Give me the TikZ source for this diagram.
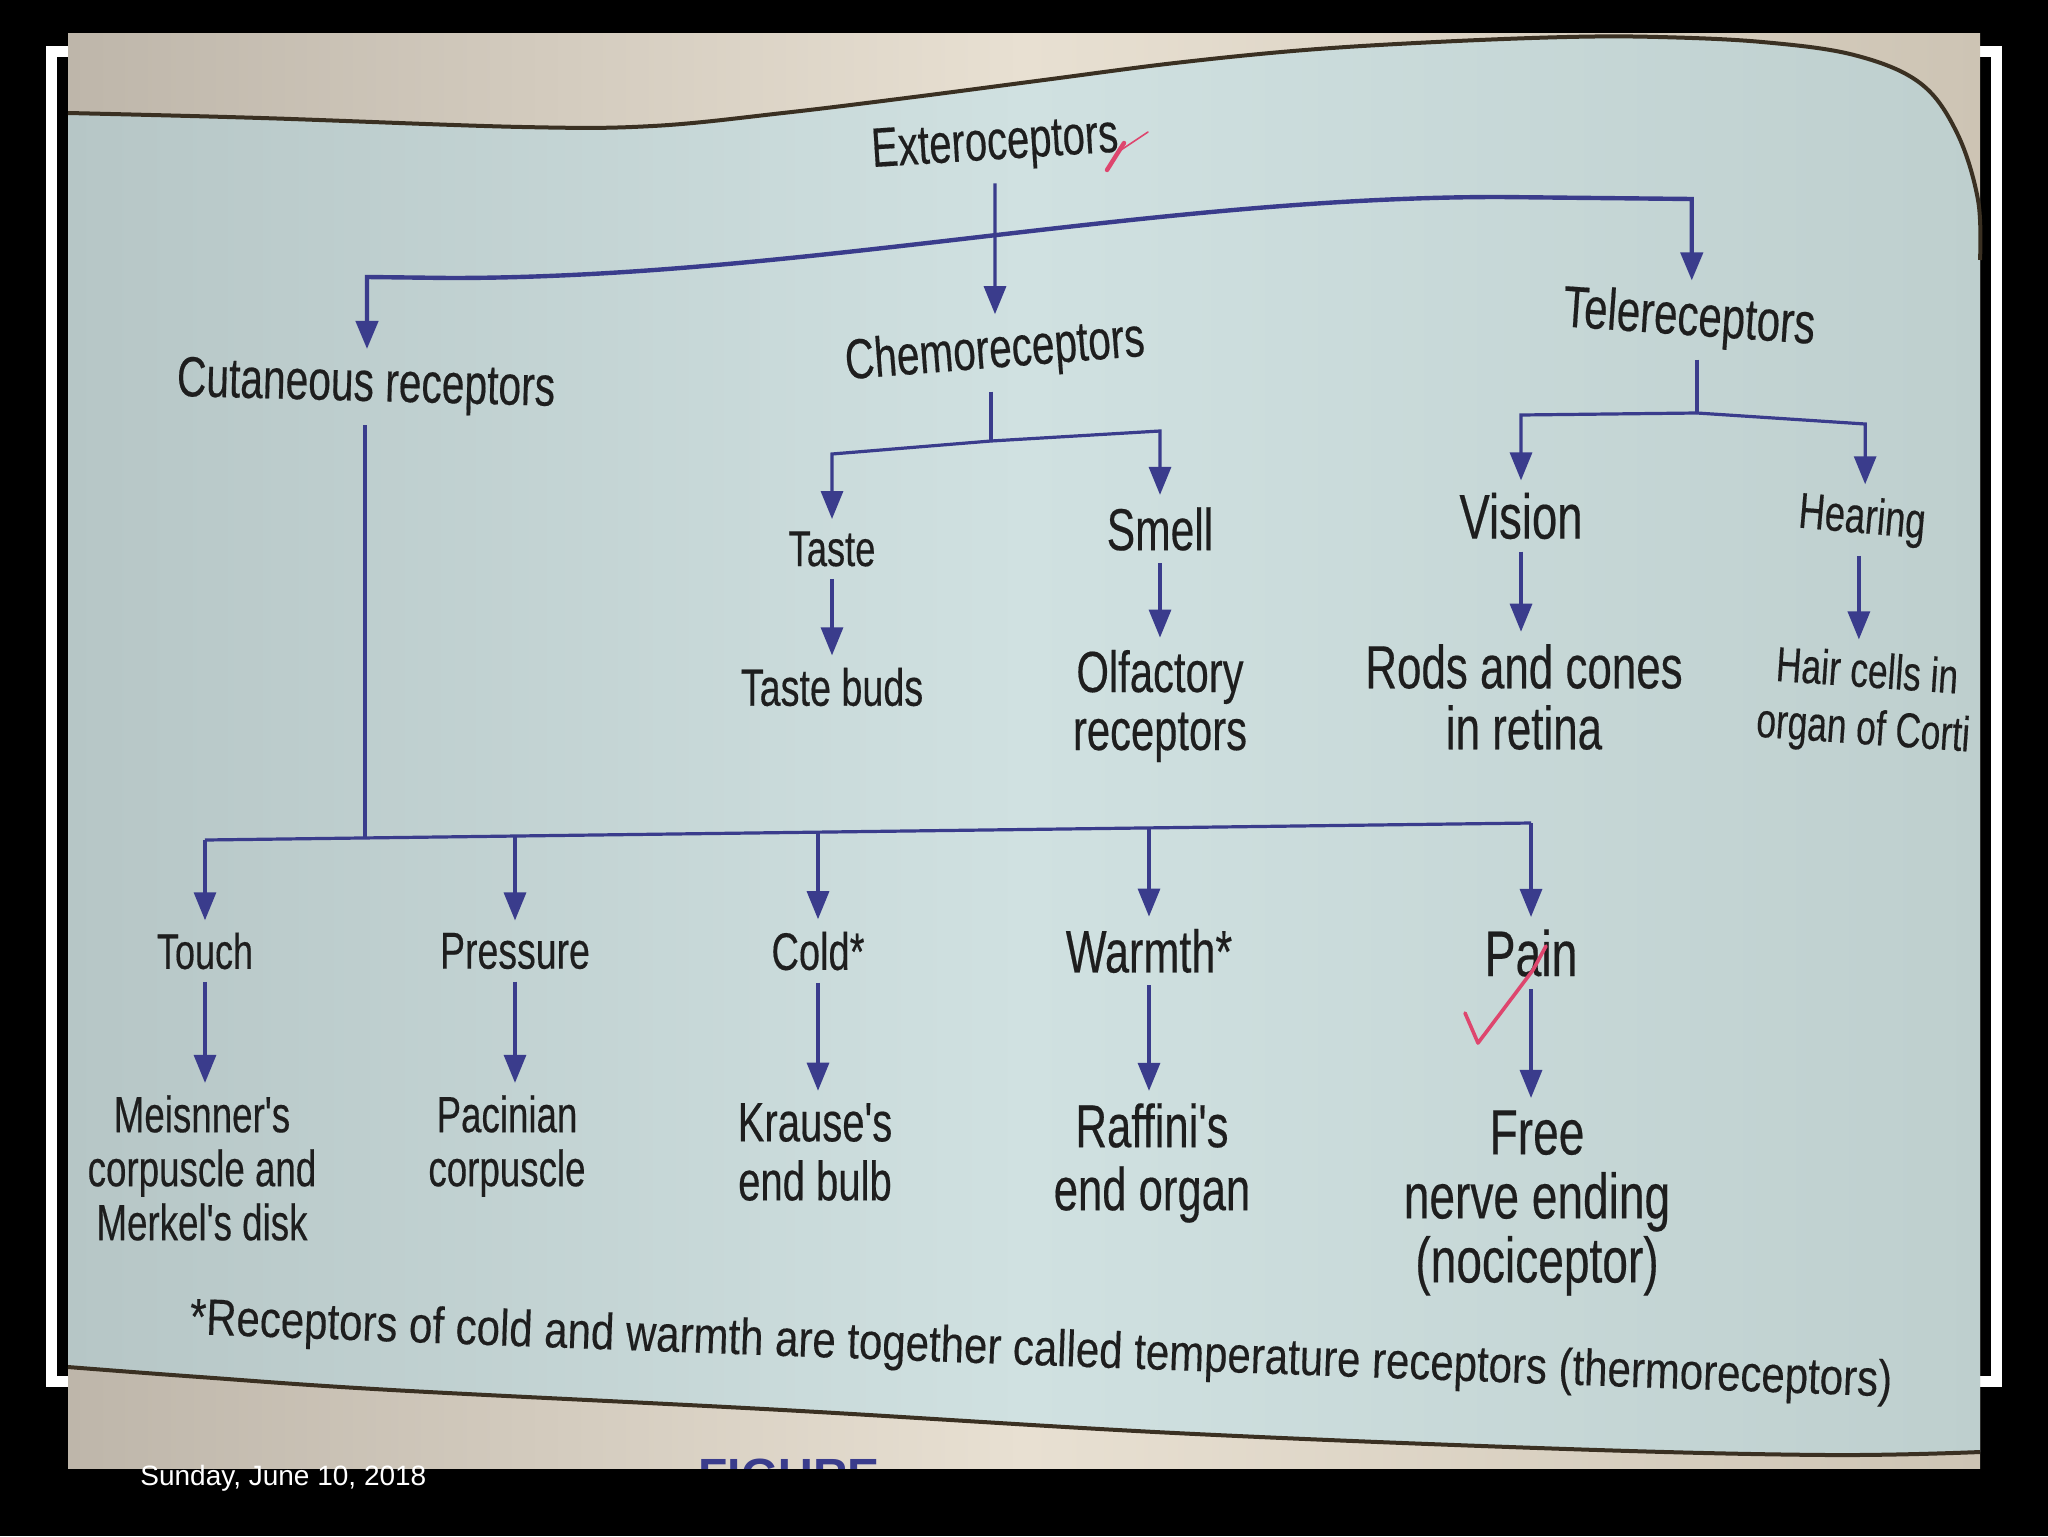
\documentclass[tikz,border=0pt]{standalone}
\usepackage{fontspec}
\setmainfont{Liberation Sans}
\newfontfamily\lblfont{Liberation Sans}[FakeStretch=0.72,FakeBold=0.3]
\newfontfamily\notefont{Liberation Sans}[FakeStretch=0.82,FakeBold=0.2]
\usetikzlibrary{arrows.meta}
\definecolor{navy}{RGB}{58,60,140}
\definecolor{ink}{RGB}{30,30,30}
\definecolor{panelL}{RGB}{182,198,198}
\definecolor{panelM}{RGB}{208,225,225}
\definecolor{panelR}{RGB}{190,207,206}
\definecolor{creamL}{RGB}{190,182,170}
\definecolor{creamM}{RGB}{232,224,210}
\definecolor{creamR}{RGB}{205,196,180}
\definecolor{edgecol}{RGB}{58,48,34}
\definecolor{pen}{RGB}{222,70,110}
\begin{document}
\begin{tikzpicture}[x=0.5pt,y=-0.5pt,
  lbl/.style 2 args={font=\lblfont\fontsize{#1}{#2}\selectfont, text=ink, align=center, inner sep=6pt},
  link/.style={draw=navy, line width=1.6pt},
  arr/.style={link, -{Triangle[length=14pt,width=11pt]}},
]
% background and frame
\fill[black] (0,0) rectangle (2048,1536);
\useasboundingbox (0,0) rectangle (2048,1536);
\draw[white, line width=5.5pt] (51.5,51.5) rectangle (1996.5,1381.5);
\shade[left color=creamL, right color=creamR, middle color=creamM] (68,34) rectangle (1980,1468);
% blue panel
\shade[left color=panelL, right color=panelR, middle color=panelM]
  (68,113) -- plot[smooth, tension=0.6] coordinates {(68,113) (261,118) (522,127) (653,126) (783,113) (914,97) (1044,80) (1175,63) (1305,50) (1436,42) (1567,37) (1658,37) (1762,42) (1854,55) (1920,83) (1957,133) (1978,200) (1980,260)}
  -- (1980,1452) -- plot[smooth, tension=0.6] coordinates {(1980,1452) (1828,1455) (1567,1449) (1175,1433) (783,1410) (392,1390) (200,1377) (68,1367)} -- cycle;
\draw[edgecol, line width=2pt] plot[smooth, tension=0.6] coordinates {(68,113) (261,118) (522,127) (653,126) (783,113) (914,97) (1044,80) (1175,63) (1305,50) (1436,42) (1567,37) (1658,37) (1762,42) (1854,55) (1920,83) (1957,133) (1978,200) (1980,260)};
\draw[edgecol, line width=2pt] plot[smooth, tension=0.6] coordinates {(1980,1452) (1828,1455) (1567,1449) (1175,1433) (783,1410) (392,1390) (200,1377) (68,1367)};
% clipped figure caption peeking at bottom
\begin{scope}
\clip (68,34) rectangle (1980,1468);
\node[font=\bfseries\fontsize{24}{26}\selectfont, text=navy, anchor=north west, inner sep=0pt] (fig) at (698,1459) {FIGURE};
\end{scope}

% nodes
\node[lbl={27.8}{30}, rotate=3.6] (ext) at (995,146) {Exteroceptors};
\node[lbl={28.3}{30}, rotate=-1.5] (cut) at (366,387) {Cutaneous receptors};
\node[lbl={28.2}{30}, rotate=4.5] (chemo) at (995,353) {Chemoreceptors};
\node[lbl={29.2}{30}, rotate=-4] (tele) at (1689,320) {Telereceptors};
\node[lbl={25.2}{27}] (taste) at (832,549) {Taste};
\node[lbl={29.6}{30}] (smell) at (1160,529) {Smell};
\node[lbl={26.2}{27}] (tbuds) at (832,687) {Taste buds};
\node[lbl={29}{29}] (olf) at (1160,706) {Olfactory\\receptors};
\node[lbl={31.6}{30}] (vision) at (1521,516) {Vision};
\node[lbl={25.2}{27}, rotate=-5] (hear) at (1862,520) {Hearing};
\node[lbl={30.5}{30.5}] (rods) at (1524,697) {Rods and cones\\in retina};
\node[lbl={24.5}{28.5}, rotate=-4] (hair) at (1865,703) {Hair cells in\\organ of Corti};
\node[lbl={25}{27}] (touch) at (205,951) {Touch};
\node[lbl={26}{27}] (press) at (515,951) {Pressure};
\node[lbl={26.4}{27}] (cold) at (818,951) {Cold*};
\node[lbl={30}{30}] (warm) at (1149,951) {Warmth*};
\node[lbl={32.2}{30}] (pain) at (1531,953) {Pain};
\node[lbl={25.5}{27}] (meis) at (202,1168) {Meisnner's\\corpuscle and\\Merkel's disk};
\node[lbl={25.5}{27}] (pac) at (507,1146) {Pacinian\\corpuscle};
\node[lbl={27.8}{29.5}] (kra) at (815,1152) {Krause's\\end bulb};
\node[lbl={30.3}{31.5}] (raf) at (1152,1163) {Raffini's\\end organ};
\node[lbl={32}{32}] (free) at (1537,1203) {Free\\nerve ending\\(nociceptor)};
\node[font=\notefont\fontsize{25.6}{28}\selectfont, text=ink, rotate=-2.1, inner sep=0pt] (note) at (1041,1352) {*Receptors of cold and warmth are together called temperature receptors (thermoreceptors)};
\node[font=\fontsize{14}{16}\selectfont, text=white, anchor=base west, inner sep=0pt] (date) at (140,1485) {Sunday, June 10, 2018};

% helper coordinates
\coordinate (ytop) at (0,277);
\coordinate (ytopr) at (0,199);
\coordinate (jc) at (991,441);
\coordinate (tl) at (0,454);
\coordinate (sr) at (0,431);
\coordinate (jt) at (1697,413);
\coordinate (vl) at (0,415);
\coordinate (hr) at (0,424);
\coordinate (ycut) at (0,838);
\coordinate (yb1) at (0,840);
\coordinate (yb2) at (0,836);
\coordinate (yb3) at (0,832);
\coordinate (yb4) at (0,828);
\coordinate (yb5) at (0,823);

% connectors
\draw[arr] (ext) -- (chemo);
\draw[link, line width=2.2pt, {Triangle[length=14pt,width=11pt]}-{Triangle[length=14pt,width=11pt]}]
  (cut.north) -- (cut.north |- ytop) -- (450,278) .. controls (800,278) and (1150,197) .. (1500,197) -- (tele.north |- ytopr) -- (tele.north);

\draw[link] (chemo.south -| jc) -- (jc);
\draw[arr] (jc) -- (taste.north |- tl) -- (taste.north);
\draw[arr] (jc) -- (smell.north |- sr) -- (smell.north);

\draw[link] (tele.south -| jt) -- (jt);
\draw[arr] (jt) -- (vision.north |- vl) -- (vision.north);
\draw[arr] (jt) -- (hear.north |- hr) -- (hear.north);

\draw[arr] (taste.south) -- (taste.south |- tbuds.north);
\draw[arr] (smell.south) -- (smell.south |- olf.north);
\draw[arr] (vision.south) -- (vision.south |- rods.north);
\draw[arr] (hear.south) -- (hear.south |- hair.north);

\draw[link] (cut.south) -- (cut.south |- ycut);
\draw[link] (touch.north |- yb1) -- (pain.north |- yb5);
\draw[arr] (touch.north |- yb1) -- (touch.north);
\draw[arr] (press.north |- yb2) -- (press.north);
\draw[arr] (cold.north |- yb3) -- (cold.north);
\draw[arr] (warm.north |- yb4) -- (warm.north);
\draw[arr] (pain.north |- yb5) -- (pain.north);

\draw[arr] (touch.south) -- (touch.south |- meis.north);
\draw[arr] (press.south) -- (press.south |- pac.north);
\draw[arr] (cold.south) -- (cold.south |- kra.north);
\draw[arr] (warm.south) -- (warm.south |- raf.north);
\draw[arr] (pain.south) -- (pain.south |- free.north);

% handwritten red ticks
\draw[pen, line width=2.2pt, line cap=round] (1107,170) -- (1124,143);
\draw[pen, line width=0.8pt, line cap=round] (1118,152) -- (1148,132);
\draw[pen, line width=1.8pt, line cap=round, line join=round] (1465,1013) -- (1478,1043) -- (1533,970) -- (1546,946);
\end{tikzpicture}
\end{document}
